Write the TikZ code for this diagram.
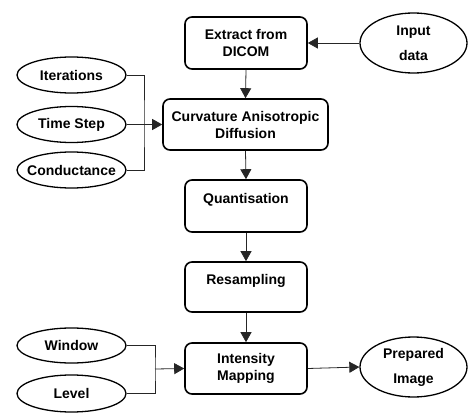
\documentclass[tikz,border=0pt]{standalone}
\usepackage{fontspec}
\setmainfont{Liberation Sans}
\usetikzlibrary{shapes.geometric,arrows.meta}

% label that does not widen its ellipse
\newcommand{\slimlabel}[1]{\makebox[0pt]{#1}}

\tikzset{
    stepbox/.style={draw, line width=1.6pt, rounded corners=7pt, align=center,
        minimum width=122pt, minimum height=52pt, inner sep=2pt,
        font=\fontsize{14}{17}\selectfont\bfseries},
    onerow/.style={text height=10pt, text depth=16pt},
    param/.style={draw, ellipse, line width=1.3pt, align=center, inner sep=0pt,
        minimum width=109pt, minimum height=36pt,
        font=\fontsize{14}{17}\selectfont\bfseries},
    bigparam/.style={param, minimum width=107pt, minimum height=60pt},
    flow/.style={line width=0.8pt, draw=black!85, -{Triangle[length=10pt,width=11pt]}},
    joint/.style={line width=0.8pt, draw=black!85}
}

\begin{document}
\begin{tikzpicture}[x=1pt,y=-1pt]
    \useasboundingbox (0,0) rectangle (474,420);

    % main chain
    \node[stepbox] (extract) at (246,43) {Extract from\\DICOM};
    \node[stepbox, minimum width=165pt, minimum height=51pt] (curv) at (245.5,124.5) {Curvature Anisotropic\\Diffusion};
    \node[stepbox, onerow] (quant) at (246,206) {Quantisation};
    \node[stepbox, onerow, minimum height=50pt] (resamp) at (246,287) {Resampling};
    \node[stepbox, minimum height=51pt] (intens) at (246,368.5) {Intensity\\Mapping};

    % inputs and output
    \node[bigparam] (input) at (413.5,43) {\slimlabel{Input}\\[8pt]\slimlabel{data}};
    \node[bigparam] (prepared) at (413.5,367) {\slimlabel{Prepared}\\[8pt]\slimlabel{Image}};

    \node[param] (iter) at (71.5,75) {\slimlabel{Iterations}};
    \node[param] (tstep) at (71.5,124.5) {\slimlabel{Time Step}};
    \node[param] (cond) at (71.5,170) {\slimlabel{Conductance}};

    \node[param, minimum height=35pt] (window) at (71.5,345.5) {\slimlabel{Window}};
    \node[param, minimum height=37pt] (level) at (71.5,393.5) {\slimlabel{Level}};

    \coordinate (tj) at (144,124.5);
    \coordinate (wj) at (155,369);

    % connectors
    \draw[flow] (input.west) -- (extract.east);
    \draw[flow] (extract.south) -- (curv.north);
    \draw[flow] (curv.south) -- (quant.north);
    \draw[flow] (quant.south) -- (resamp.north);
    \draw[flow] (resamp.south) -- (intens.north);
    \draw[flow] (intens.east) -- (prepared.west);

    \draw[joint] (iter.east) -| (tj) |- (cond.east);
    \draw[flow] (tstep.east) -- (curv.west);

    \draw[joint] (window.east) -| (wj) |- (level.east);
    \draw[flow] (wj) -- (intens.west);
\end{tikzpicture}
\end{document}
